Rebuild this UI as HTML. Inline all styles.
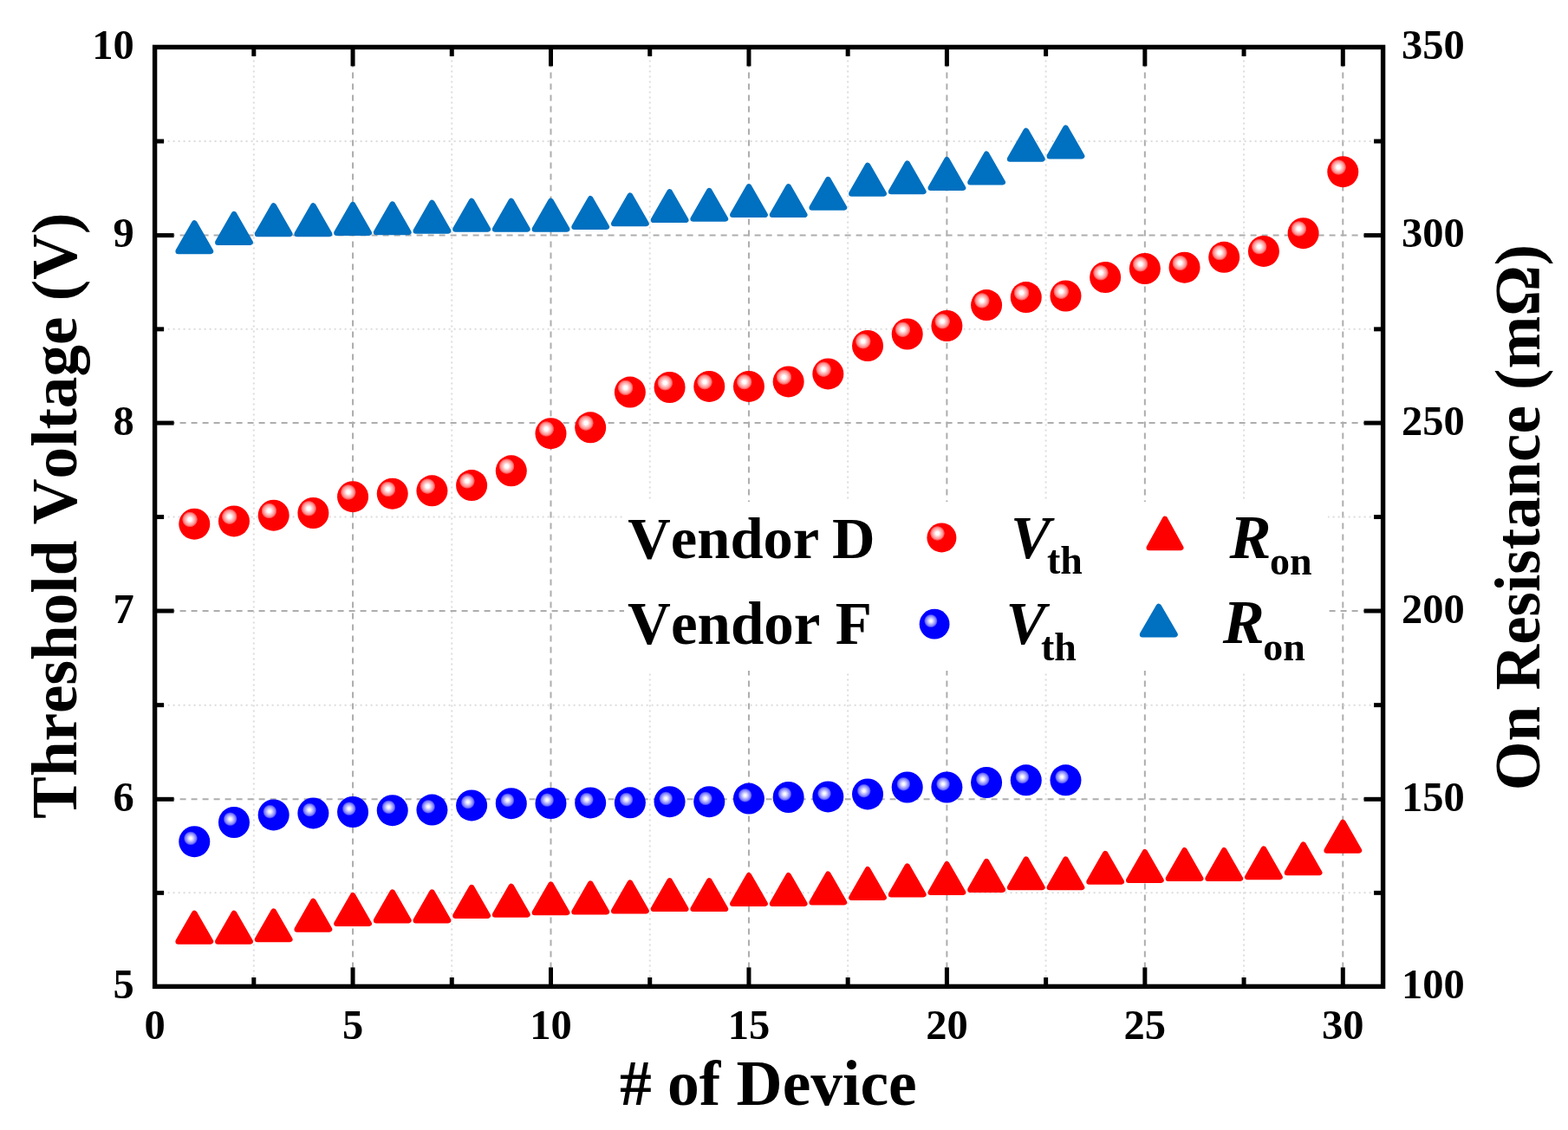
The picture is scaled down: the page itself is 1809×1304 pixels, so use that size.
<!DOCTYPE html>
<html><head><meta charset="utf-8"><title>Threshold Voltage and On Resistance vs Device</title>
<style>
html,body{margin:0;padding:0;background:#fff;}
svg{display:block;}
text{font-family:"Liberation Serif","Times New Roman",serif;font-weight:bold;fill:#000;font-kerning:none;}
.it{font-style:italic;}
</style></head><body>
<svg width="1809" height="1304" viewBox="0 0 1809 1304">
<defs>
<radialGradient id="gr" cx="0.355" cy="0.355" r="0.25" fx="0.355" fy="0.355">
<stop offset="0" stop-color="#ffffff"/><stop offset="0.22" stop-color="#ffffff"/><stop offset="0.45" stop-color="#ffcccc"/><stop offset="0.78" stop-color="#ff8a8a"/><stop offset="0.93" stop-color="#ff4a4a"/><stop offset="1" stop-color="#ff0000"/>
</radialGradient>
<radialGradient id="gb" cx="0.38" cy="0.395" r="0.225" fx="0.38" fy="0.395">
<stop offset="0" stop-color="#ffffff"/><stop offset="0.2" stop-color="#f2f2ff"/><stop offset="0.5" stop-color="#b4b4ff"/><stop offset="0.82" stop-color="#7070ff"/><stop offset="1" stop-color="#0000ff"/>
</radialGradient>
</defs>
<rect x="0" y="0" width="1809" height="1304" fill="#fff"/>
<g>
<style>.mj{stroke:#adadad;stroke-width:2;stroke-dasharray:7 6;} .mn{stroke:#dcdcdc;stroke-width:2;stroke-dasharray:2 4;}</style>
<line x1="292.82" y1="57.4" x2="292.82" y2="1135.4" class="mn"/>
<line x1="521.27" y1="57.4" x2="521.27" y2="1135.4" class="mn"/>
<line x1="749.73" y1="57.4" x2="749.73" y2="1135.4" class="mn"/>
<line x1="978.17" y1="57.4" x2="978.17" y2="1135.4" class="mn"/>
<line x1="1206.62" y1="57.4" x2="1206.62" y2="1135.4" class="mn"/>
<line x1="1435.07" y1="57.4" x2="1435.07" y2="1135.4" class="mn"/>
<line x1="407.05" y1="57.4" x2="407.05" y2="1135.4" class="mj"/>
<line x1="635.5" y1="57.4" x2="635.5" y2="1135.4" class="mj"/>
<line x1="863.95" y1="57.4" x2="863.95" y2="1135.4" class="mj"/>
<line x1="1092.4" y1="57.4" x2="1092.4" y2="1135.4" class="mj"/>
<line x1="1320.85" y1="57.4" x2="1320.85" y2="1135.4" class="mj"/>
<line x1="1549.3" y1="57.4" x2="1549.3" y2="1135.4" class="mj"/>
<line x1="181.6" y1="1030.35" x2="1592.6" y2="1030.35" class="mn"/>
<line x1="181.6" y1="813.65" x2="1592.6" y2="813.65" class="mn"/>
<line x1="181.6" y1="596.55" x2="1592.6" y2="596.55" class="mn"/>
<line x1="181.6" y1="379.85" x2="1592.6" y2="379.85" class="mn"/>
<line x1="181.6" y1="163" x2="1592.6" y2="163" class="mn"/>
<line x1="181.6" y1="922.3" x2="1592.6" y2="922.3" class="mj"/>
<line x1="181.6" y1="705" x2="1592.6" y2="705" class="mj"/>
<line x1="181.6" y1="488.1" x2="1592.6" y2="488.1" class="mj"/>
<line x1="181.6" y1="271.6" x2="1592.6" y2="271.6" class="mj"/>
</g>
<rect x="720" y="579" width="812" height="195" fill="#fff"/>
<g>
<circle cx="224.29" cy="604.7" r="18" fill="url(#gr)"/>
<circle cx="269.98" cy="601.4" r="18" fill="url(#gr)"/>
<circle cx="315.67" cy="594.7" r="18" fill="url(#gr)"/>
<circle cx="361.36" cy="592" r="18" fill="url(#gr)"/>
<circle cx="407.05" cy="573.2" r="18" fill="url(#gr)"/>
<circle cx="452.74" cy="569.7" r="18" fill="url(#gr)"/>
<circle cx="498.43" cy="566.3" r="18" fill="url(#gr)"/>
<circle cx="544.12" cy="560.1" r="18" fill="url(#gr)"/>
<circle cx="589.81" cy="543.3" r="18" fill="url(#gr)"/>
<circle cx="635.5" cy="500.2" r="18" fill="url(#gr)"/>
<circle cx="681.19" cy="493.3" r="18" fill="url(#gr)"/>
<circle cx="726.88" cy="452.6" r="18" fill="url(#gr)"/>
<circle cx="772.57" cy="447" r="18" fill="url(#gr)"/>
<circle cx="818.26" cy="445.9" r="18" fill="url(#gr)"/>
<circle cx="863.95" cy="445.9" r="18" fill="url(#gr)"/>
<circle cx="909.64" cy="440.4" r="18" fill="url(#gr)"/>
<circle cx="955.33" cy="431.4" r="18" fill="url(#gr)"/>
<circle cx="1001.02" cy="399" r="18" fill="url(#gr)"/>
<circle cx="1046.71" cy="385.5" r="18" fill="url(#gr)"/>
<circle cx="1092.4" cy="376" r="18" fill="url(#gr)"/>
<circle cx="1138.09" cy="352.1" r="18" fill="url(#gr)"/>
<circle cx="1183.78" cy="343.1" r="18" fill="url(#gr)"/>
<circle cx="1229.47" cy="341.5" r="18" fill="url(#gr)"/>
<circle cx="1275.16" cy="320" r="18" fill="url(#gr)"/>
<circle cx="1320.85" cy="310" r="18" fill="url(#gr)"/>
<circle cx="1366.54" cy="308.7" r="18" fill="url(#gr)"/>
<circle cx="1412.23" cy="296.8" r="18" fill="url(#gr)"/>
<circle cx="1457.92" cy="289.9" r="18" fill="url(#gr)"/>
<circle cx="1503.61" cy="269.2" r="18" fill="url(#gr)"/>
<circle cx="1549.3" cy="198.2" r="18" fill="url(#gr)"/>
<circle cx="224.29" cy="971.2" r="18" fill="url(#gb)"/>
<circle cx="269.98" cy="949" r="18" fill="url(#gb)"/>
<circle cx="315.67" cy="940.4" r="18" fill="url(#gb)"/>
<circle cx="361.36" cy="938.4" r="18" fill="url(#gb)"/>
<circle cx="407.05" cy="937" r="18" fill="url(#gb)"/>
<circle cx="452.74" cy="935.2" r="18" fill="url(#gb)"/>
<circle cx="498.43" cy="934.6" r="18" fill="url(#gb)"/>
<circle cx="544.12" cy="929.4" r="18" fill="url(#gb)"/>
<circle cx="589.81" cy="927.2" r="18" fill="url(#gb)"/>
<circle cx="635.5" cy="927" r="18" fill="url(#gb)"/>
<circle cx="681.19" cy="926.4" r="18" fill="url(#gb)"/>
<circle cx="726.88" cy="926.3" r="18" fill="url(#gb)"/>
<circle cx="772.57" cy="925.2" r="18" fill="url(#gb)"/>
<circle cx="818.26" cy="925.2" r="18" fill="url(#gb)"/>
<circle cx="863.95" cy="921.6" r="18" fill="url(#gb)"/>
<circle cx="909.64" cy="920" r="18" fill="url(#gb)"/>
<circle cx="955.33" cy="919.4" r="18" fill="url(#gb)"/>
<circle cx="1001.02" cy="916.4" r="18" fill="url(#gb)"/>
<circle cx="1046.71" cy="908.5" r="18" fill="url(#gb)"/>
<circle cx="1092.4" cy="908.5" r="18" fill="url(#gb)"/>
<circle cx="1138.09" cy="903" r="18" fill="url(#gb)"/>
<circle cx="1183.78" cy="900.3" r="18" fill="url(#gb)"/>
<circle cx="1229.47" cy="900.3" r="18" fill="url(#gb)"/>
<polygon points="224.29,1053.95 242.94,1086.45 205.64,1086.45" fill="#ff0000" stroke="#ff0000" stroke-width="6.5" stroke-linejoin="round"/>
<polygon points="269.98,1053.95 288.63,1086.45 251.33,1086.45" fill="#ff0000" stroke="#ff0000" stroke-width="6.5" stroke-linejoin="round"/>
<polygon points="315.67,1051.55 334.32,1084.05 297.02,1084.05" fill="#ff0000" stroke="#ff0000" stroke-width="6.5" stroke-linejoin="round"/>
<polygon points="361.36,1039.95 380.01,1072.45 342.71,1072.45" fill="#ff0000" stroke="#ff0000" stroke-width="6.5" stroke-linejoin="round"/>
<polygon points="407.05,1033.25 425.7,1065.75 388.4,1065.75" fill="#ff0000" stroke="#ff0000" stroke-width="6.5" stroke-linejoin="round"/>
<polygon points="452.74,1029.65 471.39,1062.15 434.09,1062.15" fill="#ff0000" stroke="#ff0000" stroke-width="6.5" stroke-linejoin="round"/>
<polygon points="498.43,1029.65 517.08,1062.15 479.78,1062.15" fill="#ff0000" stroke="#ff0000" stroke-width="6.5" stroke-linejoin="round"/>
<polygon points="544.12,1024.15 562.77,1056.65 525.47,1056.65" fill="#ff0000" stroke="#ff0000" stroke-width="6.5" stroke-linejoin="round"/>
<polygon points="589.81,1022.95 608.46,1055.45 571.16,1055.45" fill="#ff0000" stroke="#ff0000" stroke-width="6.5" stroke-linejoin="round"/>
<polygon points="635.5,1020.55 654.15,1053.05 616.85,1053.05" fill="#ff0000" stroke="#ff0000" stroke-width="6.5" stroke-linejoin="round"/>
<polygon points="681.19,1019.65 699.84,1052.15 662.54,1052.15" fill="#ff0000" stroke="#ff0000" stroke-width="6.5" stroke-linejoin="round"/>
<polygon points="726.88,1018.65 745.53,1051.15 708.23,1051.15" fill="#ff0000" stroke="#ff0000" stroke-width="6.5" stroke-linejoin="round"/>
<polygon points="772.57,1016.35 791.22,1048.85 753.92,1048.85" fill="#ff0000" stroke="#ff0000" stroke-width="6.5" stroke-linejoin="round"/>
<polygon points="818.26,1016.35 836.91,1048.85 799.61,1048.85" fill="#ff0000" stroke="#ff0000" stroke-width="6.5" stroke-linejoin="round"/>
<polygon points="863.95,1010.25 882.6,1042.75 845.3,1042.75" fill="#ff0000" stroke="#ff0000" stroke-width="6.5" stroke-linejoin="round"/>
<polygon points="909.64,1010.25 928.29,1042.75 890.99,1042.75" fill="#ff0000" stroke="#ff0000" stroke-width="6.5" stroke-linejoin="round"/>
<polygon points="955.33,1008.75 973.98,1041.25 936.68,1041.25" fill="#ff0000" stroke="#ff0000" stroke-width="6.5" stroke-linejoin="round"/>
<polygon points="1001.02,1003.25 1019.67,1035.75 982.37,1035.75" fill="#ff0000" stroke="#ff0000" stroke-width="6.5" stroke-linejoin="round"/>
<polygon points="1046.71,999.65 1065.36,1032.15 1028.06,1032.15" fill="#ff0000" stroke="#ff0000" stroke-width="6.5" stroke-linejoin="round"/>
<polygon points="1092.4,997.25 1111.05,1029.75 1073.75,1029.75" fill="#ff0000" stroke="#ff0000" stroke-width="6.5" stroke-linejoin="round"/>
<polygon points="1138.09,994.15 1156.74,1026.65 1119.44,1026.65" fill="#ff0000" stroke="#ff0000" stroke-width="6.5" stroke-linejoin="round"/>
<polygon points="1183.78,991.55 1202.43,1024.05 1165.13,1024.05" fill="#ff0000" stroke="#ff0000" stroke-width="6.5" stroke-linejoin="round"/>
<polygon points="1229.47,991.55 1248.12,1024.05 1210.82,1024.05" fill="#ff0000" stroke="#ff0000" stroke-width="6.5" stroke-linejoin="round"/>
<polygon points="1275.16,985.05 1293.81,1017.55 1256.51,1017.55" fill="#ff0000" stroke="#ff0000" stroke-width="6.5" stroke-linejoin="round"/>
<polygon points="1320.85,983.25 1339.5,1015.75 1302.2,1015.75" fill="#ff0000" stroke="#ff0000" stroke-width="6.5" stroke-linejoin="round"/>
<polygon points="1366.54,981.25 1385.19,1013.75 1347.89,1013.75" fill="#ff0000" stroke="#ff0000" stroke-width="6.5" stroke-linejoin="round"/>
<polygon points="1412.23,981.25 1430.88,1013.75 1393.58,1013.75" fill="#ff0000" stroke="#ff0000" stroke-width="6.5" stroke-linejoin="round"/>
<polygon points="1457.92,979.55 1476.57,1012.05 1439.27,1012.05" fill="#ff0000" stroke="#ff0000" stroke-width="6.5" stroke-linejoin="round"/>
<polygon points="1503.61,974.55 1522.26,1007.05 1484.96,1007.05" fill="#ff0000" stroke="#ff0000" stroke-width="6.5" stroke-linejoin="round"/>
<polygon points="1549.3,948.95 1567.95,981.45 1530.65,981.45" fill="#ff0000" stroke="#ff0000" stroke-width="6.5" stroke-linejoin="round"/>
<polygon points="224.29,257.45 242.94,289.95 205.64,289.95" fill="#0070c0" stroke="#0070c0" stroke-width="6.5" stroke-linejoin="round"/>
<polygon points="269.98,247.15 288.63,279.65 251.33,279.65" fill="#0070c0" stroke="#0070c0" stroke-width="6.5" stroke-linejoin="round"/>
<polygon points="315.67,237.45 334.32,269.95 297.02,269.95" fill="#0070c0" stroke="#0070c0" stroke-width="6.5" stroke-linejoin="round"/>
<polygon points="361.36,237.45 380.01,269.95 342.71,269.95" fill="#0070c0" stroke="#0070c0" stroke-width="6.5" stroke-linejoin="round"/>
<polygon points="407.05,236.15 425.7,268.65 388.4,268.65" fill="#0070c0" stroke="#0070c0" stroke-width="6.5" stroke-linejoin="round"/>
<polygon points="452.74,235.55 471.39,268.05 434.09,268.05" fill="#0070c0" stroke="#0070c0" stroke-width="6.5" stroke-linejoin="round"/>
<polygon points="498.43,233.95 517.08,266.45 479.78,266.45" fill="#0070c0" stroke="#0070c0" stroke-width="6.5" stroke-linejoin="round"/>
<polygon points="544.12,231.95 562.77,264.45 525.47,264.45" fill="#0070c0" stroke="#0070c0" stroke-width="6.5" stroke-linejoin="round"/>
<polygon points="589.81,231.95 608.46,264.45 571.16,264.45" fill="#0070c0" stroke="#0070c0" stroke-width="6.5" stroke-linejoin="round"/>
<polygon points="635.5,231.95 654.15,264.45 616.85,264.45" fill="#0070c0" stroke="#0070c0" stroke-width="6.5" stroke-linejoin="round"/>
<polygon points="681.19,229.25 699.84,261.75 662.54,261.75" fill="#0070c0" stroke="#0070c0" stroke-width="6.5" stroke-linejoin="round"/>
<polygon points="726.88,225.55 745.53,258.05 708.23,258.05" fill="#0070c0" stroke="#0070c0" stroke-width="6.5" stroke-linejoin="round"/>
<polygon points="772.57,221.35 791.22,253.85 753.92,253.85" fill="#0070c0" stroke="#0070c0" stroke-width="6.5" stroke-linejoin="round"/>
<polygon points="818.26,220.05 836.91,252.55 799.61,252.55" fill="#0070c0" stroke="#0070c0" stroke-width="6.5" stroke-linejoin="round"/>
<polygon points="863.95,215.35 882.6,247.85 845.3,247.85" fill="#0070c0" stroke="#0070c0" stroke-width="6.5" stroke-linejoin="round"/>
<polygon points="909.64,215.35 928.29,247.85 890.99,247.85" fill="#0070c0" stroke="#0070c0" stroke-width="6.5" stroke-linejoin="round"/>
<polygon points="955.33,207.05 973.98,239.55 936.68,239.55" fill="#0070c0" stroke="#0070c0" stroke-width="6.5" stroke-linejoin="round"/>
<polygon points="1001.02,190.95 1019.67,223.45 982.37,223.45" fill="#0070c0" stroke="#0070c0" stroke-width="6.5" stroke-linejoin="round"/>
<polygon points="1046.71,188.55 1065.36,221.05 1028.06,221.05" fill="#0070c0" stroke="#0070c0" stroke-width="6.5" stroke-linejoin="round"/>
<polygon points="1092.4,184.25 1111.05,216.75 1073.75,216.75" fill="#0070c0" stroke="#0070c0" stroke-width="6.5" stroke-linejoin="round"/>
<polygon points="1138.09,177.75 1156.74,210.25 1119.44,210.25" fill="#0070c0" stroke="#0070c0" stroke-width="6.5" stroke-linejoin="round"/>
<polygon points="1183.78,150.95 1202.43,183.45 1165.13,183.45" fill="#0070c0" stroke="#0070c0" stroke-width="6.5" stroke-linejoin="round"/>
<polygon points="1229.47,147.65 1248.12,180.15 1210.82,180.15" fill="#0070c0" stroke="#0070c0" stroke-width="6.5" stroke-linejoin="round"/>
</g>
<g stroke="#000" stroke-width="5">
<rect x="178.6" y="54.4" width="1417" height="1084" fill="none" stroke="#000" stroke-width="5.4"/>
<line x1="292.82" y1="1138.4" x2="292.82" y2="1127.9"/>
<line x1="292.82" y1="54.4" x2="292.82" y2="64.9"/>
<line x1="407.05" y1="1138.4" x2="407.05" y2="1116.4"/>
<line x1="407.05" y1="54.4" x2="407.05" y2="76.4"/>
<line x1="521.27" y1="1138.4" x2="521.27" y2="1127.9"/>
<line x1="521.27" y1="54.4" x2="521.27" y2="64.9"/>
<line x1="635.5" y1="1138.4" x2="635.5" y2="1116.4"/>
<line x1="635.5" y1="54.4" x2="635.5" y2="76.4"/>
<line x1="749.73" y1="1138.4" x2="749.73" y2="1127.9"/>
<line x1="749.73" y1="54.4" x2="749.73" y2="64.9"/>
<line x1="863.95" y1="1138.4" x2="863.95" y2="1116.4"/>
<line x1="863.95" y1="54.4" x2="863.95" y2="76.4"/>
<line x1="978.17" y1="1138.4" x2="978.17" y2="1127.9"/>
<line x1="978.17" y1="54.4" x2="978.17" y2="64.9"/>
<line x1="1092.4" y1="1138.4" x2="1092.4" y2="1116.4"/>
<line x1="1092.4" y1="54.4" x2="1092.4" y2="76.4"/>
<line x1="1206.62" y1="1138.4" x2="1206.62" y2="1127.9"/>
<line x1="1206.62" y1="54.4" x2="1206.62" y2="64.9"/>
<line x1="1320.85" y1="1138.4" x2="1320.85" y2="1116.4"/>
<line x1="1320.85" y1="54.4" x2="1320.85" y2="76.4"/>
<line x1="1435.07" y1="1138.4" x2="1435.07" y2="1127.9"/>
<line x1="1435.07" y1="54.4" x2="1435.07" y2="64.9"/>
<line x1="1549.3" y1="1138.4" x2="1549.3" y2="1116.4"/>
<line x1="1549.3" y1="54.4" x2="1549.3" y2="76.4"/>
<line x1="178.6" y1="1030.35" x2="189.1" y2="1030.35"/>
<line x1="1595.6" y1="1030.35" x2="1585.1" y2="1030.35"/>
<line x1="178.6" y1="922.3" x2="200.6" y2="922.3"/>
<line x1="1595.6" y1="922.3" x2="1573.6" y2="922.3"/>
<line x1="178.6" y1="813.65" x2="189.1" y2="813.65"/>
<line x1="1595.6" y1="813.65" x2="1585.1" y2="813.65"/>
<line x1="178.6" y1="705" x2="200.6" y2="705"/>
<line x1="1595.6" y1="705" x2="1573.6" y2="705"/>
<line x1="178.6" y1="596.55" x2="189.1" y2="596.55"/>
<line x1="1595.6" y1="596.55" x2="1585.1" y2="596.55"/>
<line x1="178.6" y1="488.1" x2="200.6" y2="488.1"/>
<line x1="1595.6" y1="488.1" x2="1573.6" y2="488.1"/>
<line x1="178.6" y1="379.85" x2="189.1" y2="379.85"/>
<line x1="1595.6" y1="379.85" x2="1585.1" y2="379.85"/>
<line x1="178.6" y1="271.6" x2="200.6" y2="271.6"/>
<line x1="1595.6" y1="271.6" x2="1573.6" y2="271.6"/>
<line x1="178.6" y1="163" x2="189.1" y2="163"/>
<line x1="1595.6" y1="163" x2="1585.1" y2="163"/>
</g>
<text x="154.8" y="1152.2" font-size="48.5" text-anchor="end">5</text>
<text x="154.8" y="936.1" font-size="48.5" text-anchor="end">6</text>
<text x="154.8" y="718.8" font-size="48.5" text-anchor="end">7</text>
<text x="154.8" y="501.9" font-size="48.5" text-anchor="end">8</text>
<text x="154.8" y="285.4" font-size="48.5" text-anchor="end">9</text>
<text x="154.8" y="68.2" font-size="48.5" text-anchor="end">10</text>
<text x="1617" y="1152.2" font-size="48.5">100</text>
<text x="1617" y="936.1" font-size="48.5">150</text>
<text x="1617" y="718.8" font-size="48.5">200</text>
<text x="1617" y="501.9" font-size="48.5">250</text>
<text x="1617" y="285.4" font-size="48.5">300</text>
<text x="1617" y="68.2" font-size="48.5">350</text>
<text x="178.6" y="1198.8" font-size="48.5" text-anchor="middle">0</text>
<text x="407.05" y="1198.8" font-size="48.5" text-anchor="middle">5</text>
<text x="635.5" y="1198.8" font-size="48.5" text-anchor="middle">10</text>
<text x="863.95" y="1198.8" font-size="48.5" text-anchor="middle">15</text>
<text x="1092.4" y="1198.8" font-size="48.5" text-anchor="middle">20</text>
<text x="1320.85" y="1198.8" font-size="48.5" text-anchor="middle">25</text>
<text x="1549.3" y="1198.8" font-size="48.5" text-anchor="middle">30</text>
<text x="714.9" y="1274.9" font-size="73.5">#&#160;of Device</text>
<text transform="translate(87.5,944.9) rotate(-90)" font-size="73.2">Threshold Voltage (V)</text>
<text transform="translate(1776,912.2) rotate(-90)" font-size="73">On Resistance (m&#937;)</text>
<text x="724.3" y="643.6" font-size="68.6">Vendor <tspan dx="-2.5">D</tspan></text>
<text x="724.1" y="743.1" font-size="69">Vendor F</text>
<circle cx="1086.4" cy="620.4" r="17" fill="url(#gr)"/>
<circle cx="1078.1" cy="720.2" r="17.4" fill="url(#gb)"/>
<text class="it" x="1166" y="643.6" font-size="69">V</text>
<text x="1208" y="662.2" font-size="46">th</text>
<text class="it" x="1160.5" y="743.1" font-size="69">V</text>
<text x="1201" y="761.7" font-size="46">th</text>
<polygon points="1344,598.95 1362.25,631.95 1325.75,631.95" fill="#ff0000" stroke="#ff0000" stroke-width="6.5" stroke-linejoin="round"/>
<polygon points="1336.8,699.95 1355.55,732.15 1318.05,732.15" fill="#0070c0" stroke="#0070c0" stroke-width="6.5" stroke-linejoin="round"/>
<text class="it" x="1418.4" y="643.5" font-size="72">R</text>
<text x="1465" y="662.9" font-size="46">on</text>
<text class="it" x="1410.7" y="742.2" font-size="72">R</text>
<text x="1457.2" y="761.5" font-size="46">on</text>
</svg>
</body></html>
